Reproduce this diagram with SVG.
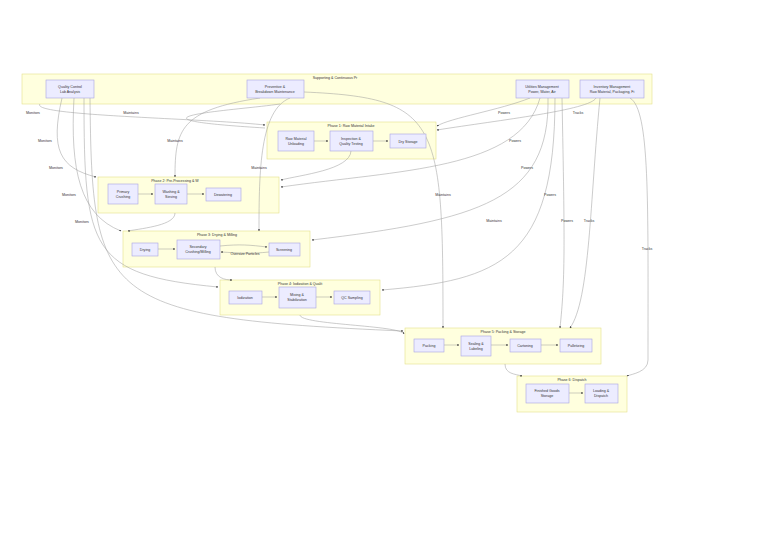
<svg xmlns="http://www.w3.org/2000/svg" width="768" height="543" viewBox="0 0 768 543">
<style>
.c{fill:#ffffde;stroke:#e3e08a;stroke-width:0.6}
.n rect{fill:#ececff;stroke:#a9a3e0;stroke-width:0.6}
text{font-family:"Liberation Sans",sans-serif;font-size:3.6px;fill:#333;text-anchor:middle}
.e path{fill:none;stroke:#999;stroke-width:0.5}
.a{marker-end:url(#m)}
.l{fill:#fff}
</style>
<defs><marker id="m" viewBox="0 0 6 6" refX="5" refY="3" markerWidth="4" markerHeight="4" orient="auto"><path d="M0,0L6,3L0,6z" fill="#333"/></marker></defs>
<rect width="768" height="543" fill="#fff"/>
<g id="clusters">
<rect class="c" x="22" y="74" width="630" height="30"/><text x="335" y="78.5">Supporting &amp; Continuous Pr</text>
<rect class="c" x="267" y="122" width="169" height="37"/><text x="351" y="127">Phase 1: Raw Material Intake</text>
<rect class="c" x="98" y="177" width="181" height="36"/><text x="175" y="182">Phase 2: Pre-Processing &amp; W</text>
<rect class="c" x="123" y="231" width="187" height="36"/><text x="217" y="235.5">Phase 3: Drying &amp; Milling</text>
<rect class="c" x="220" y="280" width="160" height="35"/><text x="300" y="284.5">Phase 4: Iodization &amp; Qualit</text>
<rect class="c" x="405" y="328" width="196" height="36"/><text x="503" y="332.5">Phase 5: Packing &amp; Storage</text>
<rect class="c" x="517" y="376" width="110" height="36"/><text x="572" y="381">Phase 6: Dispatch</text>
</g>
<g class="e" id="connectors">
<path d="M40,104 C30,116 200,118 265,125" class="a"/>
<path d="M280,104 C240,110 100,118 265,128"/>
<path d="M62,98 C50,150 60,168 96,177" class="a"/>
<path d="M74,98 C70,170 80,215 121,231" class="a"/>
<path d="M84,98 C84,250 90,275 218,287" class="a"/>
<path d="M90,98 C92,300 100,318 403,331" class="a"/>
<path d="M260,98 C180,110 175,130 175,177" class="a"/>
<path d="M290,98 C260,110 259,170 259,231" class="a"/>
<path d="M304,92 C440,98 443,120 443,328" class="a"/>
<path d="M530,98 C500,110 450,118 437,126" class="a"/>
<path d="M540,98 C520,170 400,170 281,187" class="a"/>
<path d="M548,98 C550,200 480,220 312,240" class="a"/>
<path d="M555,98 C555,260 500,280 382,290" class="a"/>
<path d="M562,98 C565,250 565,280 560,328" class="a"/>
<path d="M596,98 C590,110 500,120 437,130" class="a"/>
<path d="M600,98 C590,200 590,300 570,328" class="a"/>
<path d="M630,98 C650,110 648,200 648,360 C648,372 632,374 627,376" class="a"/>
<path d="M314,141 L328,141" class="a"/><path d="M373,141 L388,141" class="a"/>
<path d="M351,151 C350,170 300,175 281,180" class="a"/>
<path d="M138,194 L153,194" class="a"/><path d="M187,194 L204,194" class="a"/>
<path d="M175,213 C175,225 145,228 128,231" class="a"/>
<path d="M158,249 L175,249" class="a"/><path d="M220,246 C240,244 250,245 267,247" class="a"/>
<path d="M269,252 C250,254 240,253 221,252" class="a"/>
<path d="M215,267 C215,278 225,280 232,280" class="a"/>
<path d="M262,297 L277,297" class="a"/><path d="M316,297 L332,297" class="a"/>
<path d="M300,315 C300,325 400,325 404,334" class="a"/>
<path d="M444,345 L459,345" class="a"/><path d="M491,345 L508,345" class="a"/><path d="M541,345 L558,345" class="a"/>
<path d="M505,364 C505,374 515,374 522,376" class="a"/>
<path d="M569,393 L583,393" class="a"/>
</g>
<g id="edge-labels">
<text x="33" y="114">Monitors</text><text x="45" y="142">Monitors</text><text x="56" y="169">Monitors</text><text x="69" y="196">Monitors</text><text x="82" y="223">Monitors</text>
<text x="131" y="114">Maintains</text><text x="175" y="142">Maintains</text><text x="259" y="169">Maintains</text><text x="443" y="196">Maintains</text><text x="494" y="222">Maintains</text>
<text x="504" y="114">Powers</text><text x="515" y="142">Powers</text><text x="527" y="169">Powers</text><text x="550" y="196">Powers</text><text x="567" y="222">Powers</text>
<text x="578" y="114">Tracks</text><text x="589" y="222">Tracks</text><text x="647" y="250">Tracks</text>
<text x="245" y="255">Oversize Particles</text>
</g>
<g class="n" id="qc"><rect x="46" y="80" width="48" height="18"/><text x="70" y="88">Quality Control</text><text x="70" y="93">Lab Analysis</text></g>
<g class="n" id="pm"><rect x="247" y="80" width="57" height="18"/><text x="275" y="88">Preventive &amp;</text><text x="275" y="93">Breakdown Maintenance</text></g>
<g class="n" id="util"><rect x="516" y="80" width="53" height="18"/><text x="542" y="88">Utilities Management</text><text x="542" y="93">Power, Water, Air</text></g>
<g class="n" id="inv"><rect x="580" y="80" width="64" height="18"/><text x="612" y="88">Inventory Management</text><text x="612" y="93">Raw Material, Packaging, Fi</text></g>
<g class="n" id="p1a"><rect x="278" y="131" width="36" height="20"/><text x="296" y="140">Raw Material</text><text x="296" y="145">Unloading</text></g>
<g class="n" id="p1b"><rect x="330" y="131" width="43" height="20"/><text x="351" y="140">Inspection &amp;</text><text x="351" y="145">Quality Testing</text></g>
<g class="n" id="p1c"><rect x="390" y="134" width="36" height="14"/><text x="408" y="142.5">Dry Storage</text></g>
<g class="n" id="p2a"><rect x="108" y="184" width="30" height="20"/><text x="123" y="193">Primary</text><text x="123" y="198">Crushing</text></g>
<g class="n" id="p2b"><rect x="155" y="184" width="32" height="20"/><text x="171" y="193">Washing &amp;</text><text x="171" y="198">Sieving</text></g>
<g class="n" id="p2c"><rect x="206" y="188" width="35" height="13"/><text x="223" y="196">Dewatering</text></g>
<g class="n" id="p3a"><rect x="132" y="243" width="26" height="13"/><text x="145" y="251">Drying</text></g>
<g class="n" id="p3b"><rect x="177" y="240" width="43" height="19"/><text x="198" y="248">Secondary</text><text x="198" y="253">Crushing/Milling</text></g>
<g class="n" id="p3c"><rect x="269" y="243" width="31" height="13"/><text x="284" y="251">Screening</text></g>
<g class="n" id="p4a"><rect x="229" y="291" width="33" height="13"/><text x="245" y="299">Iodization</text></g>
<g class="n" id="p4b"><rect x="279" y="287" width="37" height="21"/><text x="297" y="296">Mixing &amp;</text><text x="297" y="301">Stabilization</text></g>
<g class="n" id="p4c"><rect x="334" y="291" width="36" height="13"/><text x="352" y="299">QC Sampling</text></g>
<g class="n" id="p5a"><rect x="414" y="339" width="30" height="13"/><text x="429" y="347">Packing</text></g>
<g class="n" id="p5b"><rect x="461" y="336" width="30" height="20"/><text x="476" y="345">Sealing &amp;</text><text x="476" y="350">Labeling</text></g>
<g class="n" id="p5c"><rect x="510" y="339" width="31" height="13"/><text x="525" y="347">Cartoning</text></g>
<g class="n" id="p5d"><rect x="560" y="339" width="32" height="13"/><text x="576" y="347">Palletizing</text></g>
<g class="n" id="p6a"><rect x="526" y="384" width="43" height="19"/><text x="547" y="392">Finished Goods</text><text x="547" y="397">Storage</text></g>
<g class="n" id="p6b"><rect x="585" y="384" width="33" height="19"/><text x="601" y="392">Loading &amp;</text><text x="601" y="397">Dispatch</text></g>
</svg>
